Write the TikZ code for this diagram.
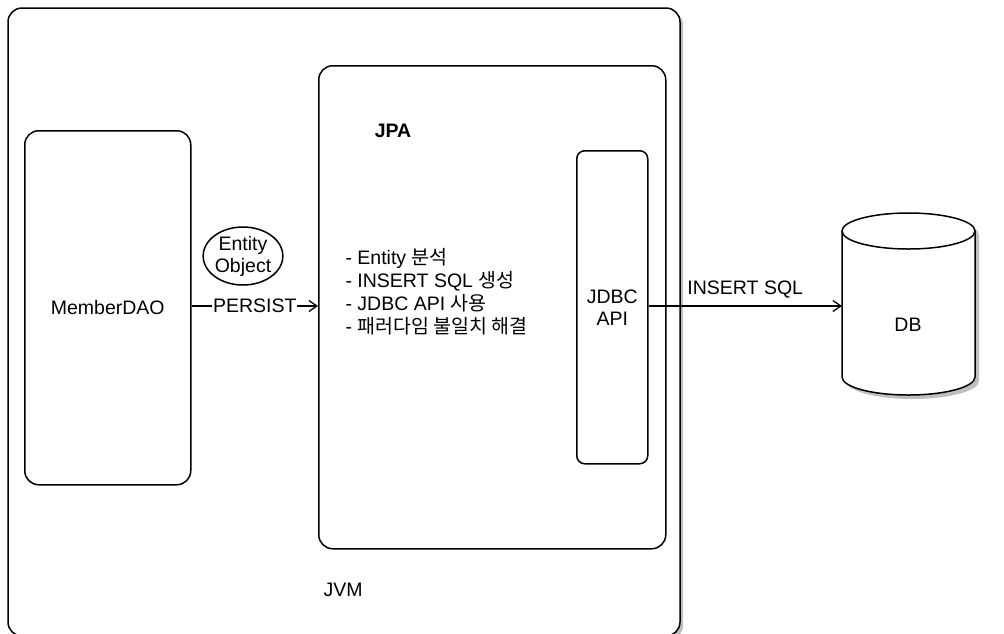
\documentclass[tikz,border=0pt]{standalone}
\usepackage{fontspec}
\setmainfont{Liberation Sans}
\newfontfamily\kr{Noto Sans CJK KR}
\usetikzlibrary{shapes.geometric,arrows.meta}
\begin{document}
\begin{tikzpicture}[x=1pt,y=-1pt,
 box/.style={draw,line width=1.5pt,rounded corners=14pt},
 sh/.style={fill=black!25,rounded corners=14pt},
 lbl/.style={font=\fontsize{19.5}{22}\selectfont},
 arr/.style={-{Straight Barb[length=8pt,width=11pt]},line width=1.3pt}]
\useasboundingbox (0,0) rectangle (1004,633);
\fill[sh] (11,11) rectangle (683,640);
\draw[box,fill=white] (8,8) rectangle (680,636);
\node[box,minimum width=347pt,minimum height=483pt,anchor=north west] (jpa) at (318,65) {};
\node[box,minimum width=166pt,minimum height=354pt,anchor=north west,lbl] (dao) at (24,130) {MemberDAO};
\node[box,rounded corners=8pt,minimum width=71pt,minimum height=313pt,anchor=north west,lbl,align=center] (jdbc) at (576,150) {JDBC\\API};
\node[draw,line width=1.5pt,ellipse,minimum width=78pt,minimum height=58pt,lbl,align=center,inner sep=0pt] (ent) at (243,256) {Entity\\Object};
\node[lbl,font=\bfseries\fontsize{19.5}{22}\selectfont] (jpat) at (393,131) {JPA};
\node[lbl,anchor=west,align=left,font=\fontsize{19.5}{23}\selectfont] (list) at (342,292) {- Entity {\kr 분석}\\- INSERT SQL {\kr 생성}\\- JDBC API {\kr 사용}\\- {\kr 패러다임 불일치 해결}};
\node[lbl] (jvm) at (343,590) {JVM};
% DB cylinder
\fill[black!25] (846,235) -- (846,381) arc[start angle=180,end angle=0,x radius=66.5,y radius=18] -- (979,235) arc[start angle=0,end angle=-180,x radius=66.5,y radius=18] -- cycle;
\draw[line width=1.5pt,fill=white] (842,231) -- (842,377) arc[start angle=180,end angle=0,x radius=66.5,y radius=18] -- (975,231) arc[start angle=0,end angle=-180,x radius=66.5,y radius=18];
\draw[line width=1.5pt] (842,231) arc[start angle=180,end angle=0,x radius=66.5,y radius=18];
\node[lbl] (db) at (908,325) {DB};
\coordinate (dbl) at (842,306);
\draw[arr] (dao.east |- 0,306) -- node[fill=white,lbl,inner sep=1pt]{PERSIST} (jpa.west |- 0,306);
\draw[arr] (jdbc.east |- 0,306) -- node[above=4pt,lbl]{INSERT SQL} (dbl);
\end{tikzpicture}
\end{document}
